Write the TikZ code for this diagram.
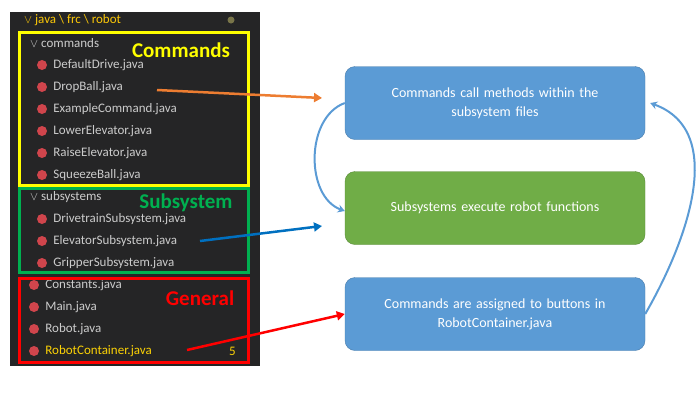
\documentclass[tikz,border=0pt]{standalone}
\usepackage{fontspec}
\setmainfont{Carlito}
\usetikzlibrary{positioning,arrows.meta}
\definecolor{panel}{HTML}{252526}
\definecolor{filetxt}{HTML}{CCCCCC}
\definecolor{jred}{HTML}{D0454C}
\definecolor{boxblue}{HTML}{5B9BD5}
\definecolor{boxgreen}{HTML}{70AD47}
\definecolor{vyellow}{HTML}{FFFF00}
\definecolor{vgreen}{HTML}{00B050}
\definecolor{vred}{HTML}{FF0000}
\definecolor{arrorange}{HTML}{ED7D31}
\definecolor{arrblue}{HTML}{0070C0}
\tikzset{
  file/.style={anchor=west, text=filetxt, font=\fontsize{13}{14}\selectfont, inner sep=0pt},
  ficon/.style={circle, fill=jred, minimum size=10pt, inner sep=0pt},
  group/.style={draw, line width=3pt},
  grouplabel/.style={font=\fontsize{21}{22}\selectfont\bfseries},
  flowbox/.style={rectangle, rounded corners=10pt, draw=boxblue!80!black, text=white, text width=270pt, minimum width=300pt, minimum height=73pt, align=center, font=\fontsize{14}{19}\selectfont},
}
\begin{document}
\begin{tikzpicture}[x=1pt, y=-1pt]
    \useasboundingbox (0,0) rectangle (696,400);
    \fill[panel] (10,12) rectangle (260,366);
    \node (header) [file, text=yellow!60!orange] at (24,20) {$\vee$\ java \textbackslash\ frc \textbackslash\ robot};
    \fill[yellow!40!black] (231,20) circle (3.5pt);

    % folders
    \node (cmdfolder) [file] at (30,43) {$\vee$\ commands};
    \node (subfolder) [file] at (30,197) {$\vee$\ subsystems};

    % files inside the folders
    \foreach \name/\y in {DefaultDrive/65, DropBall/87, ExampleCommand/109, LowerElevator/131, RaiseElevator/153, SqueezeBall/175, DrivetrainSubsystem/219, ElevatorSubsystem/241, GripperSubsystem/263} {
        \node (i\name) [ficon] at (42,\y) {};
        \node (f\name) [file, right=6pt of i\name] {\name.java};
    }
    % files at top level
    \foreach \name/\y in {Constants/285, Main/307, Robot/329} {
        \node (i\name) [ficon] at (34,\y) {};
        \node (f\name) [file, right=6pt of i\name] {\name.java};
    }
    \node (iRobotContainer) [ficon] at (34,351) {};
    \node (fRobotContainer) [file, right=6pt of iRobotContainer, text=yellow!70!orange] {RobotContainer.java};
    \node (problems) [file, text=yellow!70!orange] at (229,351) {5};

    % groups
    \draw[group, vyellow] (19,32) rectangle (248,185);
    \draw[group, vgreen] (19,188) rectangle (248,272);
    \draw[group, vred] (19,278) rectangle (248,362);
    \node (lcmd) [grouplabel, text=vyellow] at (181,50) {Commands};
    \node (lsub) [grouplabel, text=vgreen] at (186,203) {Subsystem};
    \node (lgen) [grouplabel, text=vred] at (200,298) {General};

    % flow boxes
    \node (call) [flowbox, fill=boxblue] at (495,103) {Commands call methods within the\\subsystem files};
    \node (exec) [flowbox, fill=boxgreen, draw=boxgreen!80!black] at (495,208) {Subsystems execute robot functions};
    \node (assign) [flowbox, fill=boxblue] at (495,314) {Commands are assigned to buttons in\\RobotContainer.java};

    \coordinate (tDrop) at (157,90);
    \coordinate (hDrop) at (322,98);
    \coordinate (tElev) at (200,241);
    \coordinate (hElev) at (322,226);
    \coordinate (tCont) at (187,350);

    \draw [-{Triangle[width=9pt,length=8pt]}, arrorange, line width=2.5pt] (tDrop) -- (hDrop);
    \draw [-{Triangle[width=9pt,length=8pt]}, arrblue, line width=2.5pt] (tElev) -- (hElev);
    \draw [-{Triangle[width=9pt,length=8pt]}, vred, line width=2.5pt] (tCont) -- (assign.west);
    \draw [-{Stealth[width=8pt,length=7pt]}, boxblue, line width=2pt] (call.west) to[out=200, in=160] ([yshift=-3pt]exec.west);
    \draw [-{Stealth[width=8pt,length=7pt]}, boxblue, line width=2pt] (assign.east) to[out=60, in=-20] ([xshift=5pt]call.east);
\end{tikzpicture}
\end{document}
